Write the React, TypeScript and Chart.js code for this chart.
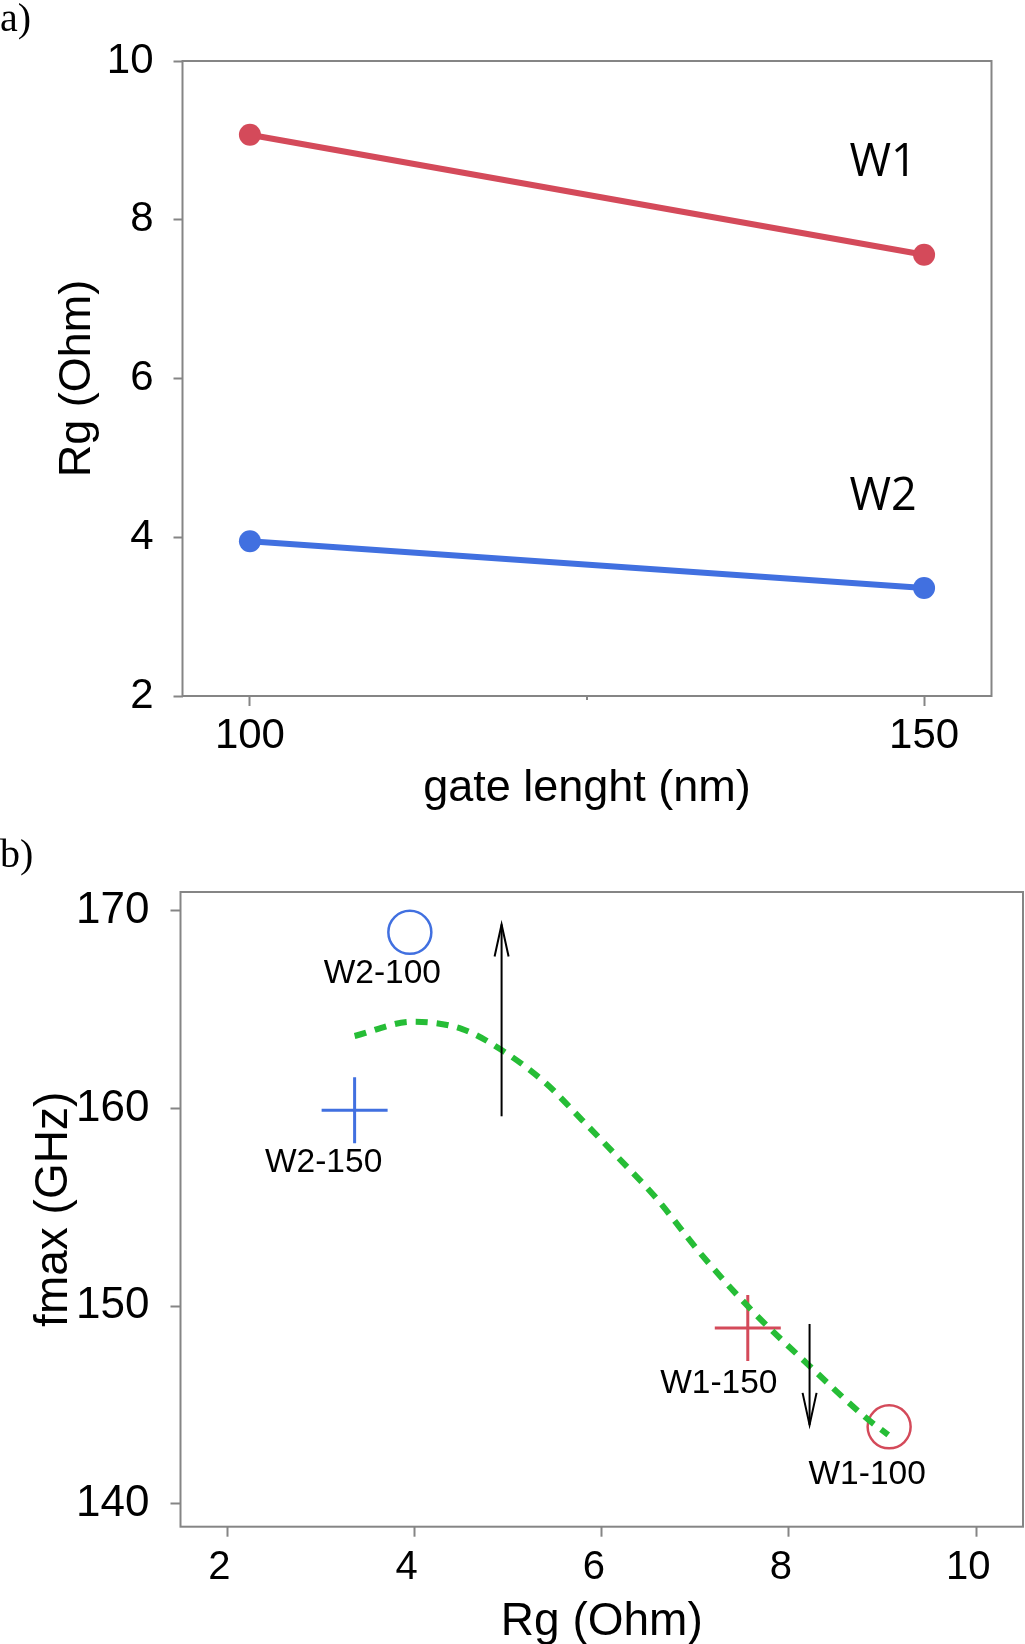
import { useEffect, useRef } from 'react';
import { Chart, registerables } from 'chart.js';

Chart.register(...registerables);

// ---- panel a: gate resistance versus gate length ----
const gateLengths = [100, 150];
const rgW1 = [9.07, 7.56];
const rgW2 = [3.95, 3.36];
const seriesNames = ['W1', 'W2'];
const lengthTicks = [100, 125, 150];
const rgTicksA = [2, 4, 6, 8, 10];

// ---- panel b: fmax versus gate resistance (same devices, [100 nm, 150 nm]) ----
const fmaxW1 = [143.9, 148.9];
const fmaxW2 = [168.9, 159.9];
const deviceNamesW1 = ['W1-100', 'W1-150'];
const deviceNamesW2 = ['W2-100', 'W2-150'];
const rgTicksB = [2, 4, 6, 8, 10];
const fmaxTicks = [140, 150, 160, 170];

// dashed trend through the devices
const trendRg = [3.36, 3.98, 4.51, 4.93, 5.40, 5.79, 6.18, 6.57, 7.07, 7.60, 8.21, 8.81, 9.06];
const trendFmax = [163.66, 164.38, 164.01, 162.95, 161.28, 159.41, 157.49, 155.53, 152.58, 149.8, 147.02, 144.41, 143.49];

// vertical arrows: Rg position, start and end fmax
const arrowRg = [4.93, 8.22];
const arrowFrom = [159.6, 149.1];
const arrowTo = [169.3, 144.0];

const RED = '#d44a5a';
const BLUE = '#4170e0';
const GREEN = '#26bd36';
const AXIS_GRAY = '#858585';
const SANS = "'Liberation Sans', Arial, Helvetica, sans-serif";
const SERIF = "'Liberation Serif', 'Times New Roman', serif";

const W = 1025;
const H_A = 830;
const H_B = 814;

const framePlugin = {
  id: 'frame',
  afterDraw(chart: any) {
    const { ctx, chartArea: a } = chart;
    ctx.save();
    ctx.strokeStyle = AXIS_GRAY;
    ctx.lineWidth = 2;
    ctx.strokeRect(a.left, a.top, a.right - a.left, a.bottom - a.top);
    ctx.restore();
  },
};

function panelLetter(text: string, x: number, y: number) {
  return {
    id: 'panelLetter',
    afterDraw(chart: any) {
      const { ctx } = chart;
      ctx.save();
      ctx.fillStyle = '#000';
      ctx.font = `40px ${SERIF}`;
      ctx.textAlign = 'left';
      ctx.textBaseline = 'alphabetic';
      ctx.fillText(text, x, y);
      ctx.restore();
    },
  };
}

// fixed axis box sizes, without extra label overhang padding
const fixHeight = (h: number) => (s: any) => {
  s.height = h;
  s.paddingLeft = 0;
  s.paddingRight = 0;
};
const fixWidth = (w: number) => (s: any) => {
  s.width = w;
  s.paddingTop = 0;
  s.paddingBottom = 0;
};

function App() {
  const refA = useRef<HTMLCanvasElement>(null);
  const refB = useRef<HTMLCanvasElement>(null);

  useEffect(() => {
    // ---------- panel a ----------
    const seriesA = [rgW1, rgW2];
    const colorsA = [RED, BLUE];

    const seriesLabels = {
      id: 'seriesLabels',
      afterDatasetsDraw(chart: any) {
        const { ctx, scales } = chart;
        ctx.save();
        ctx.fillStyle = '#000';
        ctx.font = `45px 'Open Sans', ${SANS}`;
        ctx.textAlign = 'center';
        ctx.textBaseline = 'middle';
        seriesA.forEach((vals, i) => {
          const last = vals.length - 1;
          const px = scales.x.getPixelForValue(gateLengths[last]);
          const py = scales.y.getPixelForValue(vals[last]);
          ctx.fillText(seriesNames[i], px - 41, py - 91);
        });
        ctx.restore();
      },
    };

    const minorTick = {
      id: 'minorTick',
      afterDraw(chart: any) {
        const { ctx, scales, chartArea } = chart;
        ctx.save();
        ctx.strokeStyle = AXIS_GRAY;
        ctx.lineWidth = 2;
        lengthTicks
          .filter((v) => !gateLengths.includes(v))
          .forEach((v) => {
            const px = scales.x.getPixelForValue(v);
            ctx.beginPath();
            ctx.moveTo(px, chartArea.bottom);
            ctx.lineTo(px, chartArea.bottom + 4);
            ctx.stroke();
          });
        ctx.restore();
      },
    };

    const chartA = new Chart(refA.current!, {
      type: 'line',
      data: {
        datasets: seriesA.map((vals, i) => ({
          label: seriesNames[i],
          data: gateLengths.map((g, j) => ({ x: g, y: vals[j] })),
          borderColor: colorsA[i],
          backgroundColor: colorsA[i],
          borderWidth: 6,
          pointRadius: 11,
          pointBorderWidth: 0,
          pointBackgroundColor: colorsA[i],
          tension: 0,
          clip: false as any,
        })),
      },
      options: {
        responsive: false,
        animation: false,
        events: [],
        layout: { autoPadding: false, padding: { top: 61, right: 33.5, left: 0, bottom: 0 } },
        plugins: { legend: { display: false }, tooltip: { enabled: false } },
        scales: {
          x: {
            type: 'linear',
            min: 95,
            max: 155,
            afterBuildTicks: (s: any) => {
              s.ticks = lengthTicks.map((v) => ({ value: v }));
            },
            afterFit: fixHeight(134),
            grid: {
              drawOnChartArea: false,
              drawTicks: true,
              tickLength: 10,
              tickWidth: 2,
              tickColor: (c: any) =>
                c.tick && !gateLengths.includes(c.tick.value) ? 'rgba(0,0,0,0)' : AXIS_GRAY,
            },
            border: { display: false },
            ticks: {
              color: '#000',
              font: { family: SANS, size: 42 },
              padding: 5,
              maxRotation: 0,
              autoSkip: false,
              callback: (v: any) => (gateLengths.includes(v) ? String(v) : ''),
            },
            title: {
              display: true,
              text: 'gate lenght (nm)',
              color: '#000',
              font: { family: SANS, size: 45 },
              padding: { top: 0, bottom: 14 },
            },
          },
          y: {
            type: 'linear',
            min: 2,
            max: 10,
            afterBuildTicks: (s: any) => {
              s.ticks = rgTicksA.map((v) => ({ value: v }));
            },
            afterFit: fixWidth(182.5),
            grid: { drawOnChartArea: false, drawTicks: true, tickLength: 9, tickWidth: 2, tickColor: AXIS_GRAY },
            border: { display: false },
            ticks: { color: '#000', font: { family: SANS, size: 42 }, padding: 20, autoSkip: false },
            title: {
              display: true,
              text: 'Rg (Ohm)',
              color: '#000',
              font: { family: SANS, size: 45 },
              padding: { top: 51, bottom: 0 },
            },
          },
        },
      } as any,
      plugins: [framePlugin, seriesLabels, minorTick, panelLetter('a)', 0, 31)],
    });

    // ---------- panel b ----------
    const rgSeries = [rgW1, rgW2];
    const fmaxSeries = [fmaxW1, fmaxW2];
    const nameSeries = [deviceNamesW1, deviceNamesW2];
    const colorsB = [RED, BLUE];
    // label offsets (px) from each marker centre
    const labelOffsets: Record<string, [number, number]> = {
      'W1-100': [-22, 48],
      'W1-150': [-29, 56],
      'W2-100': [-27.5, 41],
      'W2-150': [-31, 52.5],
    };

    const deviceLabels = {
      id: 'deviceLabels',
      afterDatasetsDraw(chart: any) {
        const { ctx, scales } = chart;
        ctx.save();
        ctx.fillStyle = '#000';
        ctx.font = `33.5px ${SANS}`;
        ctx.textAlign = 'center';
        ctx.textBaseline = 'middle';
        nameSeries.forEach((names, s) => {
          names.forEach((name, i) => {
            const px = scales.x.getPixelForValue(rgSeries[s][i]);
            const py = scales.y.getPixelForValue(fmaxSeries[s][i]);
            const [dx, dy] = labelOffsets[name];
            ctx.fillText(name, px + dx, py + dy);
          });
        });
        ctx.restore();
      },
    };

    const arrows = {
      id: 'arrows',
      afterDatasetsDraw(chart: any) {
        const { ctx, scales } = chart;
        ctx.save();
        ctx.strokeStyle = '#000';
        ctx.lineWidth = 2;
        arrowRg.forEach((rg, i) => {
          const px = scales.x.getPixelForValue(rg);
          const y0 = scales.y.getPixelForValue(arrowFrom[i]);
          const y1 = scales.y.getPixelForValue(arrowTo[i]);
          const dir = y1 < y0 ? -1 : 1;
          ctx.beginPath();
          ctx.moveTo(px, y0);
          ctx.lineTo(px, y1);
          ctx.stroke();
          ctx.beginPath();
          ctx.moveTo(px - 7, y1 - dir * 32);
          ctx.lineTo(px, y1);
          ctx.lineTo(px + 7, y1 - dir * 32);
          ctx.stroke();
        });
        ctx.restore();
      },
    };

    const chartB = new Chart(refB.current!, {
      type: 'scatter',
      data: {
        datasets: [
          {
            label: 'trend',
            data: trendRg.map((x, i) => ({ x, y: trendFmax[i] })),
            showLine: true,
            borderColor: GREEN,
            borderWidth: 6,
            borderDash: [12, 9],
            pointRadius: 0,
            cubicInterpolationMode: 'monotone',
            order: 0,
          },
          ...rgSeries.map((rgs, s) => ({
            label: seriesNames[s],
            data: rgs.map((x, i) => ({ x, y: fmaxSeries[s][i] })),
            showLine: false,
            pointStyle: ['circle', 'cross'],
            pointRadius: [21.5, 33],
            pointBorderWidth: [2.5, 3],
            pointBorderColor: colorsB[s],
            pointBackgroundColor: 'rgba(0,0,0,0)',
            borderColor: colorsB[s],
            backgroundColor: 'rgba(0,0,0,0)',
            order: 1,
            clip: false as any,
          })),
        ],
      },
      options: {
        responsive: false,
        animation: false,
        events: [],
        layout: { autoPadding: false, padding: { top: 62, right: 2, left: 0, bottom: 0 } },
        plugins: { legend: { display: false }, tooltip: { enabled: false } },
        scales: {
          x: {
            type: 'linear',
            min: 1.5,
            max: 10.5,
            afterBuildTicks: (s: any) => {
              s.ticks = rgTicksB.map((v) => ({ value: v }));
            },
            afterFit: fixHeight(117.3),
            grid: { drawOnChartArea: false, drawTicks: true, tickLength: 10, tickWidth: 2, tickColor: AXIS_GRAY },
            border: { display: false },
            ticks: {
              color: '#000',
              font: { family: SANS, size: 40 },
              padding: 7,
              labelOffset: -8,
              maxRotation: 0,
              autoSkip: false,
            },
            title: {
              display: true,
              text: 'Rg (Ohm)',
              color: '#000',
              font: { family: SANS, size: 46 },
              padding: { top: 0, bottom: -6 },
            },
          },
          y: {
            type: 'linear',
            min: 138.85,
            max: 170.94,
            afterBuildTicks: (s: any) => {
              s.ticks = fmaxTicks.map((v) => ({ value: v }));
            },
            afterFit: fixWidth(180.5),
            grid: { drawOnChartArea: false, drawTicks: true, tickLength: 10, tickWidth: 2, tickColor: AXIS_GRAY },
            border: { display: false },
            ticks: { color: '#000', font: { family: SANS, size: 44 }, padding: 21, autoSkip: false },
            title: {
              display: true,
              text: 'fmax (GHz)',
              color: '#000',
              font: { family: SANS, size: 46 },
              padding: { top: 27, bottom: 0 },
            },
          },
        },
      } as any,
      plugins: [framePlugin, deviceLabels, arrows, panelLetter('b)', 0, 36.7)],
    });

    return () => {
      chartA.destroy();
      chartB.destroy();
    };
  }, []);

  return (
    <div
      style={{
        position: 'fixed',
        left: 0,
        top: 0,
        width: W,
        height: H_A + H_B,
        background: '#fff',
        overflow: 'hidden',
      }}
    >
      <canvas
        ref={refA}
        width={W}
        height={H_A}
        style={{ position: 'absolute', left: 0, top: 0, width: W, height: H_A }}
      />
      <canvas
        ref={refB}
        width={W}
        height={H_B}
        style={{ position: 'absolute', left: 0, top: H_A, width: W, height: H_B }}
      />
    </div>
  );
}

export default App;
